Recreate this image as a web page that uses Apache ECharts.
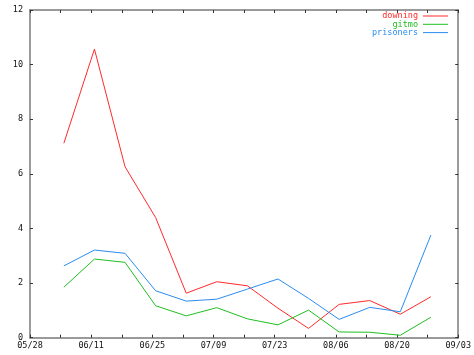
<!DOCTYPE html>
<html>
<head>
<meta charset="utf-8">
<script src="https://cdn.jsdelivr.net/npm/echarts@6/dist/echarts.min.js"></script>
<style>html,body{margin:0;padding:0;background:#fff}#c{width:474px;height:355px}</style>
</head>
<body>
<div id="c"></div>
<script>
// sample times (weekly)
var sampleTimes = ['2005-06-04T18:00','2005-06-11T18:00','2005-06-18T18:00','2005-06-25T18:00','2005-07-02T18:00','2005-07-09T18:00','2005-07-16T18:00','2005-07-23T18:00','2005-07-30T18:00','2005-08-06T18:00','2005-08-13T18:00','2005-08-20T18:00','2005-08-27T18:00'];
var downing   = [7.12, 10.57, 6.26, 4.40, 1.63, 2.05, 1.90, 1.08, 0.34, 1.22, 1.36, 0.86, 1.50];
var gitmo     = [1.85, 2.88, 2.76, 1.17, 0.80, 1.10, 0.69, 0.47, 1.01, 0.21, 0.20, 0.09, 0.75];
var prisoners = [2.63, 3.21, 3.09, 1.72, 1.34, 1.41, 1.78, 2.15, 1.44, 0.67, 1.11, 0.95, 3.76];
var xTickLabels = ['05/28','06/11','06/25','07/09','07/23','08/06','08/20','09/03'];
var axisStart = '2005-05-28T00:00';
var seriesNames = ['downing','gitmo','prisoners'];
var seriesColors = ['#ff2a2a','#1fbf1f','#2b8cf0'];

var t0 = Date.parse(axisStart + 'Z');
function dayOf(s){ return (Date.parse(s + 'Z') - t0) / 86400000; }
function pairs(vals){ return vals.map(function(v,i){ return [dayOf(sampleTimes[i]), v]; }); }
var allVals = [downing, gitmo, prisoners];

var font = 'DejaVu Sans Mono';
var axisCol = '#7a7a7a';
var chart = echarts.init(document.getElementById('c'));

var legends = seriesNames.map(function(n,i){
  return {
    data: [{name: n, textStyle: {color: seriesColors[i]}}],
    right: 26, top: 11.5 + i*8.3, padding: 0,
    align: 'right', orient: 'vertical',
    icon: 'rect', itemWidth: 25, itemHeight: 1,
    selectedMode: false,
    textStyle: {fontFamily: font, fontSize: 8.5}
  };
});

function axLine(){ return {show: true, onZero: false, lineStyle: {color: axisCol, width: 1.5}}; }
function axTick(){ return {show: true, inside: true, length: 3, lineStyle: {color: '#333'}}; }

chart.setOption({
  animation: false,
  backgroundColor: '#fff',
  legend: legends,
  grid: {left: 30, right: 14.5, top: 10, bottom: 17.3},
  xAxis: [{
    type: 'value', min: 0, max: 98, interval: 7,
    axisLine: axLine(), axisTick: axTick(),
    splitLine: {show: false},
    axisLabel: {
      fontFamily: font, fontSize: 8.5, color: '#111', margin: 4, showMinLabel: true, showMaxLabel: true,
      formatter: function(v){ return v % 14 === 0 ? xTickLabels[v/14] : ''; }
    }
  }, {
    type: 'value', position: 'top', min: 0, max: 98, interval: 7,
    axisLine: axLine(), axisTick: axTick(),
    splitLine: {show: false}, axisLabel: {show: false}
  }],
  yAxis: [{
    type: 'value', min: 0, max: 12, interval: 2,
    axisLine: axLine(), axisTick: axTick(),
    splitLine: {show: false},
    axisLabel: {fontFamily: font, fontSize: 8.5, color: '#111', margin: 7}
  }, {
    type: 'value', position: 'right', min: 0, max: 12, interval: 2,
    axisLine: axLine(), axisTick: axTick(),
    splitLine: {show: false}, axisLabel: {show: false}
  }],
  series: seriesNames.map(function(n,i){
    return {
      name: n, type: 'line', data: pairs(allVals[i]),
      xAxisIndex: 0, yAxisIndex: 0,
      symbol: 'none', color: seriesColors[i],
      lineStyle: {width: 1, color: seriesColors[i]}
    };
  })
});
</script>
</body>
</html>
